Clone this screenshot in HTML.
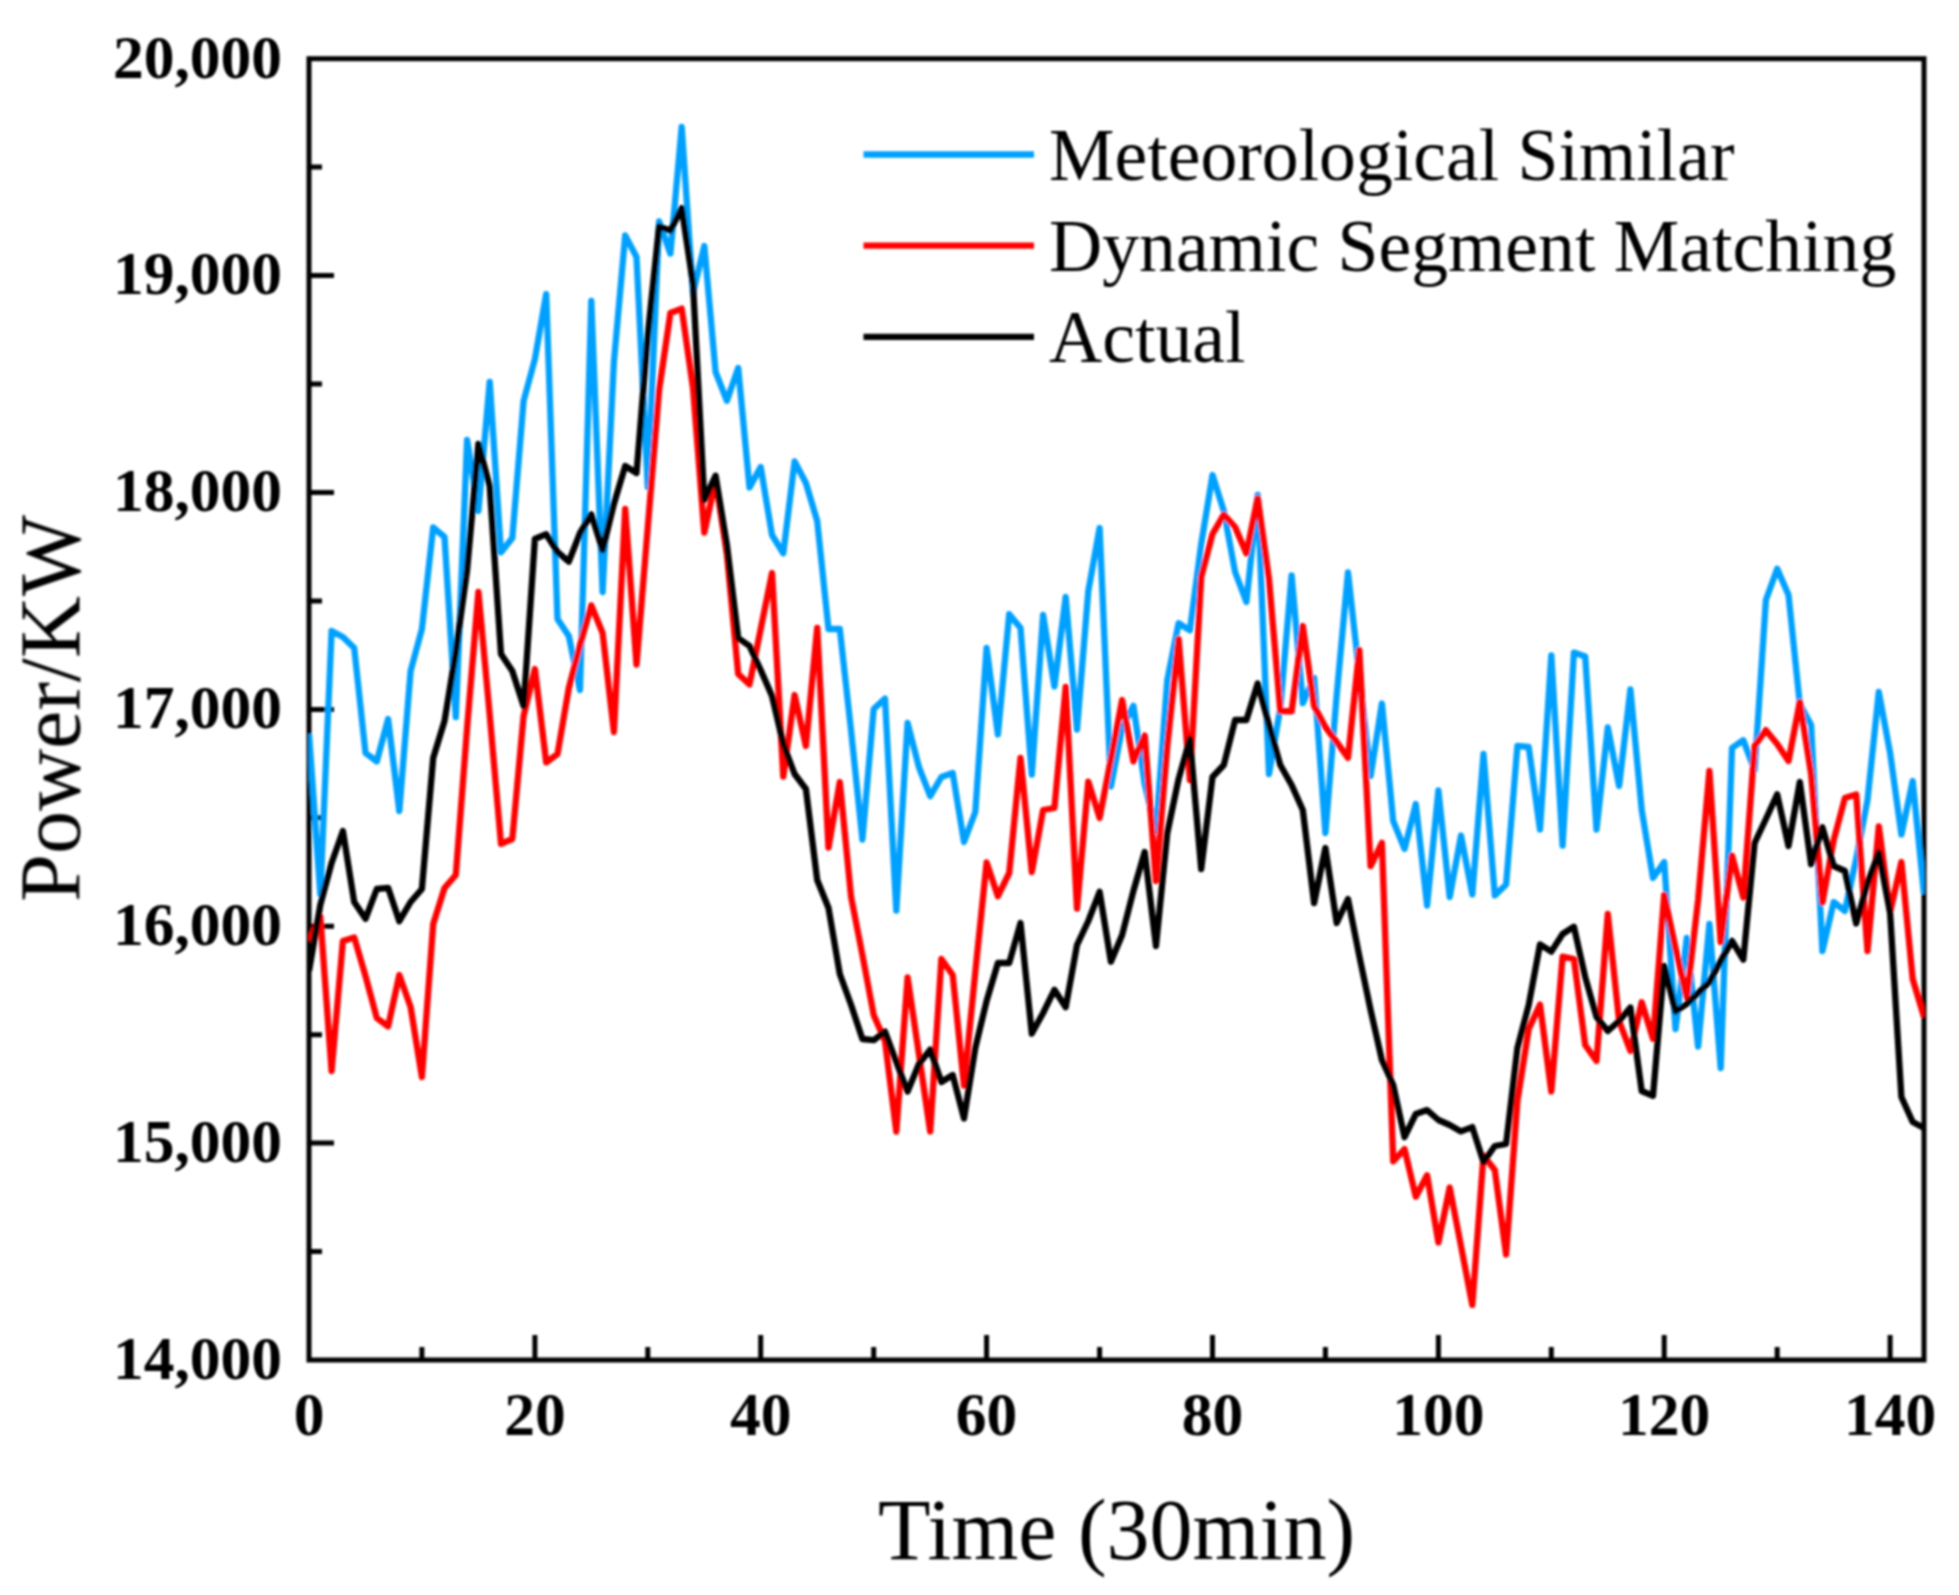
<!DOCTYPE html>
<html lang="en"><head><meta charset="utf-8"><title>Power forecast comparison</title>
<style>html,body{margin:0;padding:0;background:#fff;overflow:hidden}svg{display:block}text{font-family:"Liberation Serif","Times New Roman",Times,serif;fill:#000}.tk{font-weight:bold;font-size:61.5px}.lg{font-size:73.7px}.ti{font-size:86px}</style></head><body>
<svg width="1959" height="1595" viewBox="0 0 1959 1595">
<rect width="1959" height="1595" fill="#fff"/>
<defs><clipPath id="c"><rect x="308.5" y="58.7" width="1616.0" height="1301.3"/></clipPath><filter id="soft" x="0" y="0" width="1959" height="1595" filterUnits="userSpaceOnUse"><feGaussianBlur stdDeviation="1.1"/></filter></defs>
<g filter="url(#soft)">
<rect x="309.0" y="58.7" width="1615.0" height="1301.3" fill="none" stroke="#000" stroke-width="5"/>
<path d="M421.9,1360.0v-13 M534.9,1360.0v-25 M647.8,1360.0v-13 M760.7,1360.0v-25 M873.7,1360.0v-13 M986.6,1360.0v-25 M1099.6,1360.0v-13 M1212.5,1360.0v-25 M1325.4,1360.0v-13 M1438.4,1360.0v-25 M1551.3,1360.0v-13 M1664.2,1360.0v-25 M1777.2,1360.0v-13 M1890.1,1360.0v-25 M309.0,1251.6h13 M309.0,1143.1h25 M309.0,1034.7h13 M309.0,926.2h25 M309.0,817.8h13 M309.0,709.4h25 M309.0,600.9h13 M309.0,492.5h25 M309.0,384.0h13 M309.0,275.6h25 M309.0,167.1h13" stroke="#000" stroke-width="5" fill="none"/>
<g clip-path="url(#c)">
<polyline points="309.0,734.0 320.3,894.0 331.6,631.0 342.9,637.0 354.2,648.0 365.5,753.0 376.8,761.4 388.1,719.0 399.3,811.0 410.6,671.0 421.9,629.0 433.2,527.4 444.5,537.0 455.8,717.0 467.1,440.0 478.4,511.0 489.7,382.0 501.0,552.4 512.3,538.0 523.6,401.0 534.9,359.0 546.2,294.0 557.5,619.0 568.8,636.0 580.0,690.0 591.3,301.0 602.6,592.0 613.9,362.0 625.2,235.4 636.5,257.0 647.8,487.0 659.1,221.4 670.4,253.6 681.7,127.0 693.0,293.0 704.3,246.0 715.6,372.0 726.9,400.8 738.2,368.0 749.5,487.4 760.7,467.1 772.0,535.0 783.3,553.3 794.6,461.4 805.9,483.0 817.2,521.0 828.5,629.0 839.8,629.0 851.1,731.0 862.4,839.5 873.7,709.0 885.0,698.6 896.3,910.5 907.6,723.0 918.9,767.0 930.2,796.2 941.4,777.0 952.7,773.1 964.0,842.0 975.3,812.0 986.6,648.0 997.9,734.5 1009.2,614.2 1020.5,628.0 1031.8,774.5 1043.1,615.0 1054.4,686.5 1065.7,597.0 1077.0,729.5 1088.3,591.0 1099.6,528.0 1110.9,786.5 1122.1,728.0 1133.4,705.8 1144.7,784.0 1156.0,831.0 1167.3,680.0 1178.6,623.2 1189.9,630.3 1201.2,544.0 1212.5,475.0 1223.8,511.0 1235.1,572.0 1246.4,602.0 1257.7,495.0 1269.0,774.0 1280.3,708.0 1291.6,575.5 1302.8,703.2 1314.1,677.8 1325.4,833.0 1336.7,695.0 1348.0,572.5 1359.3,675.0 1370.6,776.0 1381.9,703.5 1393.2,821.0 1404.5,848.9 1415.8,804.0 1427.1,905.5 1438.4,790.5 1449.7,897.0 1461.0,835.5 1472.3,894.5 1483.5,754.0 1494.8,895.4 1506.1,884.5 1517.4,745.8 1528.7,747.0 1540.0,829.5 1551.3,655.5 1562.6,845.5 1573.9,652.6 1585.2,656.5 1596.5,829.5 1607.8,727.5 1619.1,786.0 1630.4,689.5 1641.7,810.0 1653.0,878.0 1664.2,862.0 1675.5,1029.0 1686.8,938.0 1698.1,1046.5 1709.4,924.0 1720.7,1068.0 1732.0,748.0 1743.3,740.2 1754.6,770.4 1765.9,600.0 1777.2,568.7 1788.5,595.0 1799.8,704.0 1811.1,725.0 1822.4,951.0 1833.7,902.1 1844.9,910.9 1856.2,859.0 1867.5,800.0 1878.8,692.0 1890.1,753.0 1901.4,834.5 1912.7,781.0 1924.0,894.0" fill="none" stroke="#00A0FF" stroke-width="6.3" stroke-linejoin="round" stroke-linecap="butt"/>
<polyline points="309.0,941.0 320.3,916.6 331.6,1071.0 342.9,941.0 354.2,937.4 365.5,976.0 376.8,1018.0 388.1,1026.4 399.3,975.0 410.6,1007.0 421.9,1077.0 433.2,924.0 444.5,888.0 455.8,875.0 467.1,728.0 478.4,592.0 489.7,715.0 501.0,843.8 512.3,839.0 523.6,716.0 534.9,669.0 546.2,762.4 557.5,754.0 568.8,688.0 580.0,645.0 591.3,605.4 602.6,633.0 613.9,732.0 625.2,509.0 636.5,664.5 647.8,527.0 659.1,390.0 670.4,313.0 681.7,308.6 693.0,388.0 704.3,532.5 715.6,480.0 726.9,554.0 738.2,674.0 749.5,684.4 760.7,629.0 772.0,573.0 783.3,776.5 794.6,695.0 805.9,746.0 817.2,628.0 828.5,847.5 839.8,782.0 851.1,897.0 862.4,955.0 873.7,1015.0 885.0,1041.0 896.3,1131.5 907.6,977.5 918.9,1054.0 930.2,1131.5 941.4,959.0 952.7,975.0 964.0,1085.5 975.3,972.0 986.6,862.5 997.9,896.2 1009.2,873.0 1020.5,758.0 1031.8,872.0 1043.1,810.0 1054.4,808.0 1065.7,687.0 1077.0,908.5 1088.3,781.6 1099.6,817.9 1110.9,759.0 1122.1,700.0 1133.4,761.4 1144.7,735.6 1156.0,881.0 1167.3,746.0 1178.6,639.0 1189.9,780.0 1201.2,577.0 1212.5,534.0 1223.8,514.6 1235.1,527.0 1246.4,553.4 1257.7,498.0 1269.0,579.0 1280.3,711.0 1291.6,711.4 1302.8,626.0 1314.1,706.0 1325.4,727.0 1336.7,742.0 1348.0,757.8 1359.3,650.0 1370.6,866.2 1381.9,842.8 1393.2,1161.4 1404.5,1149.1 1415.8,1196.8 1427.1,1175.2 1438.4,1242.5 1449.7,1187.5 1461.0,1246.0 1472.3,1305.0 1483.5,1155.6 1494.8,1170.0 1506.1,1254.5 1517.4,1101.0 1528.7,1029.0 1540.0,1004.6 1551.3,1091.5 1562.6,956.6 1573.9,959.0 1585.2,1045.0 1596.5,1061.0 1607.8,914.0 1619.1,1021.0 1630.4,1050.9 1641.7,1002.3 1653.0,1038.7 1664.2,895.0 1675.5,948.0 1686.8,997.5 1698.1,900.0 1709.4,771.0 1720.7,942.0 1732.0,855.5 1743.3,897.5 1754.6,746.0 1765.9,730.2 1777.2,744.0 1788.5,761.0 1799.8,702.0 1811.1,774.0 1822.4,902.5 1833.7,840.0 1844.9,798.0 1856.2,794.4 1867.5,951.0 1878.8,826.5 1890.1,912.0 1901.4,862.0 1912.7,979.0 1924.0,1017.0" fill="none" stroke="#FF0000" stroke-width="6.3" stroke-linejoin="round" stroke-linecap="butt"/>
<polyline points="309.0,971.0 320.3,905.0 331.6,863.0 342.9,831.0 354.2,902.0 365.5,918.8 376.8,889.0 388.1,887.8 399.3,921.2 410.6,902.0 421.9,889.0 433.2,758.0 444.5,721.0 455.8,652.0 467.1,570.0 478.4,444.0 489.7,486.0 501.0,654.0 512.3,671.0 523.6,706.0 534.9,539.0 546.2,534.2 557.5,552.0 568.8,561.6 580.0,533.0 591.3,514.4 602.6,550.0 613.9,504.0 625.2,466.0 636.5,473.0 647.8,335.0 659.1,226.4 670.4,230.6 681.7,208.1 693.0,284.0 704.3,499.8 715.6,475.7 726.9,545.0 738.2,638.0 749.5,646.0 760.7,670.0 772.0,696.0 783.3,744.0 794.6,774.0 805.9,789.0 817.2,880.0 828.5,908.0 839.8,974.0 851.1,1005.0 862.4,1039.0 873.7,1040.2 885.0,1031.6 896.3,1062.0 907.6,1091.6 918.9,1064.0 930.2,1049.6 941.4,1082.0 952.7,1075.0 964.0,1118.5 975.3,1048.0 986.6,1001.0 997.9,963.0 1009.2,963.0 1020.5,923.0 1031.8,1033.6 1043.1,1013.0 1054.4,989.8 1065.7,1007.2 1077.0,945.0 1088.3,921.0 1099.6,891.8 1110.9,961.7 1122.1,935.0 1133.4,891.0 1144.7,852.0 1156.0,946.0 1167.3,833.0 1178.6,779.0 1189.9,739.0 1201.2,869.0 1212.5,777.0 1223.8,765.0 1235.1,720.0 1246.4,720.0 1257.7,683.5 1269.0,725.0 1280.3,765.0 1291.6,785.0 1302.8,810.0 1314.1,903.0 1325.4,848.0 1336.7,923.0 1348.0,899.0 1359.3,956.0 1370.6,1010.0 1381.9,1060.0 1393.2,1085.0 1404.5,1137.2 1415.8,1114.0 1427.1,1110.1 1438.4,1120.0 1449.7,1125.0 1461.0,1131.4 1472.3,1127.1 1483.5,1162.0 1494.8,1146.0 1506.1,1144.0 1517.4,1048.0 1528.7,1005.0 1540.0,944.4 1551.3,951.6 1562.6,934.0 1573.9,926.7 1585.2,977.0 1596.5,1017.0 1607.8,1031.0 1619.1,1021.0 1630.4,1007.5 1641.7,1091.0 1653.0,1095.8 1664.2,966.0 1675.5,1011.5 1686.8,1004.0 1698.1,993.0 1709.4,982.0 1720.7,961.0 1732.0,940.9 1743.3,959.6 1754.6,843.0 1765.9,819.0 1777.2,794.4 1788.5,846.0 1799.8,782.0 1811.1,864.2 1822.4,827.3 1833.7,866.0 1844.9,871.0 1856.2,923.5 1867.5,883.0 1878.8,852.6 1890.1,913.0 1901.4,1097.0 1912.7,1122.0 1924.0,1128.0" fill="none" stroke="#000000" stroke-width="6.3" stroke-linejoin="round" stroke-linecap="butt"/>
</g>
<text class="tk" x="309.0" y="1435.3" text-anchor="middle">0</text>
<text class="tk" x="534.9" y="1435.3" text-anchor="middle">20</text>
<text class="tk" x="760.7" y="1435.3" text-anchor="middle">40</text>
<text class="tk" x="986.6" y="1435.3" text-anchor="middle">60</text>
<text class="tk" x="1212.5" y="1435.3" text-anchor="middle">80</text>
<text class="tk" x="1438.4" y="1435.3" text-anchor="middle">100</text>
<text class="tk" x="1664.2" y="1435.3" text-anchor="middle">120</text>
<text class="tk" x="1890.1" y="1435.3" text-anchor="middle">140</text>
<text class="tk" x="282" y="1378.8" text-anchor="end">14,000</text>
<text class="tk" x="282" y="1161.9" text-anchor="end">15,000</text>
<text class="tk" x="282" y="945.0" text-anchor="end">16,000</text>
<text class="tk" x="282" y="728.1" text-anchor="end">17,000</text>
<text class="tk" x="282" y="511.3" text-anchor="end">18,000</text>
<text class="tk" x="282" y="294.4" text-anchor="end">19,000</text>
<text class="tk" x="282" y="77.5" text-anchor="end">20,000</text>
<text class="ti" x="1116.5" y="1559" text-anchor="middle">Time (30min)</text>
<text class="ti" transform="translate(79.5,708.4) rotate(-90)" text-anchor="middle">Power/KW</text>
<line x1="863.5" x2="1034" y1="154.5" y2="154.5" stroke="#00A0FF" stroke-width="6.3"/>
<text class="lg" x="1049" y="180.0">Meteorological Similar</text>
<line x1="863.5" x2="1034" y1="245.7" y2="245.7" stroke="#FF0000" stroke-width="6.3"/>
<text class="lg" x="1049" y="271.2">Dynamic Segment Matching</text>
<line x1="863.5" x2="1034" y1="336.9" y2="336.9" stroke="#000000" stroke-width="6.3"/>
<text class="lg" x="1049" y="362.4">Actual</text>
</g>
</svg></body></html>
